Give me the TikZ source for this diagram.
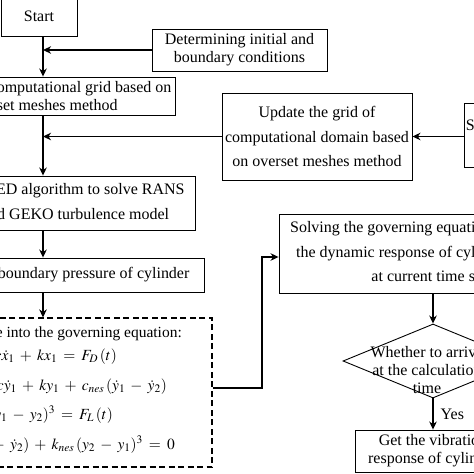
\documentclass[tikz,border=0pt]{standalone}
\usepackage{mathptmx}
\usepackage{fontspec}
\setmainfont{Liberation Serif}
\usetikzlibrary{arrows.meta,shapes.geometric}
\newcommand\eqspacing{\thickmuskip=7mu\relax\medmuskip=6mu\relax}
\begin{document}
\begin{tikzpicture}[x=1pt,y=-1pt,
  box/.style={draw, line width=0.9pt, align=center, inner sep=0pt, font=\fontsize{16}{18}\selectfont},
  wide/.style={font=\fontsize{16}{24.5}\selectfont},
  arr/.style={line width=1.4pt, -{Stealth[length=8pt,width=7.5pt,inset=2.5pt]}},
  txt/.style={inner sep=0pt, font=\fontsize{16}{18}\selectfont},
  eqn/.style={inner sep=0pt, font=\fontsize{15.5}{18}\selectfont\eqspacing},
  dbx/.style={draw, line width=1.1pt, dash pattern=on 6pt off 3.5pt, inner sep=0pt}]
\useasboundingbox (0,0) rectangle (474,474);
\clip (0,0) rectangle (474,474);
% nodes
\node[box, minimum width=76pt, minimum height=40pt] (start) at (39,16) {Start};
\node[box, minimum width=175pt, minimum height=42pt] (det) at (239.5,50) {Determining initial and\\boundary conditions};
\node[box, minimum width=264pt, minimum height=38pt] (grid) at (43,96) {Generating computational grid based on\\overset meshes method};
\node[box, wide, minimum width=190pt, minimum height=87pt] (upd) at (317,136.5) {Update the grid of\\computational domain based\\on overset meshes method};
\node[box, anchor=north west, minimum height=64pt, inner xsep=1.5pt] (sbox) at (464,103) {Solving the motion equation\\of cylinder};
\node[box, font=\fontsize{16}{25}\selectfont, minimum width=304pt, minimum height=54pt] (coup) at (43,203) {Using COUPLED algorithm to solve RANS\\equations and GEKO turbulence model};
\node[box, minimum width=322pt, minimum height=34pt] (bnd) at (43,275) {Calculating the boundary pressure of cylinder};
\node[dbx, minimum width=338pt, minimum height=149pt] (dbox) at (43,392.5) {};
\node[txt, font=\fontsize{15.5}{18}\selectfont, anchor=mid east] (title) at (182,335) {Substituting the force into the governing equation:};
\node[eqn, anchor=mid east] (eqa) at (117,358) {$m\ddot{x}_1 + c\dot{x}_1 + kx_1 = F_D\,(t)$};
\node[eqn, anchor=mid east] (eqb) at (167,388) {$m\ddot{y}_1 \mathbin{\,+\,} c\dot{y}_1 + ky_1 + c_{nes}\,(\dot{y}_1 - \dot{y}_2)$};
\node[eqn, anchor=mid east] (eqc) at (113,417) {$+\,k_{nes}\,(y_1 - y_2)^3 = F_L\,(t)$};
\node[eqn, anchor=mid east] (eqd) at (175,447) {$m_{nes}\ddot{y}_2 - c_{nes}\,(\dot{y}_1 - \dot{y}_2) + k_{nes}\,(y_2 - y_1)^3 = 0$};
\node[box, wide, minimum width=308pt, minimum height=79pt] (solve) at (433,253.5) {Solving the governing equation to determine\\the dynamic response of cylinder and NES\\at current time step};
\node[draw, diamond, line width=0.9pt, minimum width=180pt, minimum height=74pt, inner sep=0pt] (dec) at (433,361) {};
\node[txt, align=center] (dect) at (427,370) {Whether to arrive\\at the calculation\\time};
\node[box, minimum width=156pt, minimum height=42pt] (get) at (433,451) {Get the vibration\\response of cylinder};
\coordinate (turn) at (262,0);
% connectors
\draw[arr] (start.south -| grid.north) -- (grid.north);
\draw[arr] (det.west) -- (det.west -| grid.north);
\draw[arr] (grid.south) -- (coup.north);
\draw[arr] (upd.west) -- (upd.west -| grid.south);
\draw[arr] (sbox.west |- upd.east) -- (upd.east);
\draw[arr] (coup.south) -- (bnd.north);
\draw[arr] (bnd.south) -- (dbox.north);
\draw[arr] ([yshift=4.5pt]dbox.east) -- ([yshift=4.5pt]dbox.east -| turn) |- ([yshift=-3.5pt]solve.west);
\draw[arr] (solve.south) -- (dec.north);
\draw[arr] (dec.south) -- node[txt, right=7pt] (yes) {Yes} (get.north);
\end{tikzpicture}
\end{document}
